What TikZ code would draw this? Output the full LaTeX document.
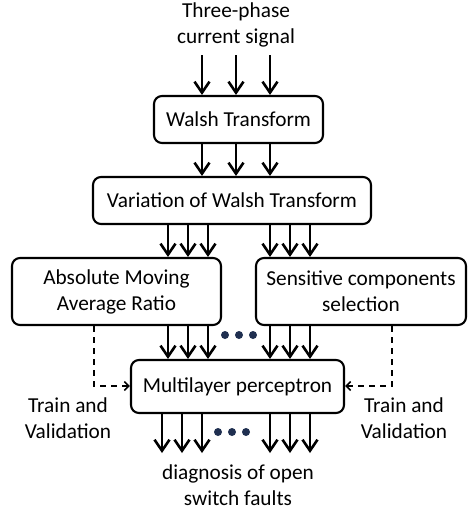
\documentclass[tikz,border=0pt]{standalone}
\usepackage{fontspec}
\setmainfont{Carlito}
\usetikzlibrary{arrows.meta}
\begin{document}
\begin{tikzpicture}[x=1pt,y=-1pt,
  box/.style={draw, line width=2.1pt, rounded corners=8pt, align=center, inner sep=0pt},
  arr/.style={line width=2.8pt, -{Straight Barb[length=11pt,width=15pt,line width=2.6pt]}},
  dsh/.style={line width=2pt, dash pattern=on 6pt off 5pt, -{Straight Barb[length=4.5pt,width=9pt,line width=1.6pt]}},
  lbl/.style={align=center, inner sep=0pt},
  dotc/.style={fill=dotblue, draw=none},
  every node/.style={font=\fontsize{21.3}{26}\selectfont}]
\definecolor{dotblue}{HTML}{1F2F50}
\useasboundingbox (0,0) rectangle (474,512);
\node[lbl] (title) at (236,25) {Three-phase\\current signal};
\node[box, minimum width=169pt, minimum height=47pt] (walsh) at (238.5,119.5) {Walsh Transform};
\node[box, minimum width=278pt, minimum height=47pt] (var) at (232,200.5) {Variation of Walsh Transform};
\node[box, minimum width=209pt, minimum height=67pt] (amar) at (116.5,291.5) {Absolute Moving\\Average Ratio};
\node[box, minimum width=210pt, minimum height=67pt] (scs) at (361,291.5) {Sensitive components\\selection};
\node[box, minimum width=213pt, minimum height=53pt] (mlp) at (237.5,386.5) {Multilayer perceptron};
\node[lbl] (tvl) at (68,418) {Train and\\Validation};
\node[lbl] (tvr) at (404,418) {Train and\\Validation};
\node[lbl] (out) at (238,485) {diagnosis of open\\switch faults};
\coordinate (tin) at (236,55);
\foreach \x in {202,236,270}{
  \draw[arr] (tin -| \x,0) -- (walsh.north -| \x,0);
  \draw[arr] (walsh.south -| \x,0) -- (var.north -| \x,0);
}
\foreach \x in {168,188,208}{
  \draw[arr] (var.south -| \x,0) -- (amar.north -| \x,0);
  \draw[arr] (amar.south -| \x,0) -- (mlp.north -| \x,0);
}
\foreach \x in {270,290,310}{
  \draw[arr] (var.south -| \x,0) -- (scs.north -| \x,0);
  \draw[arr] (scs.south -| \x,0) -- (mlp.north -| \x,0);
}
\coordinate (oend) at (238,453);
\foreach \x in {162,182,202,270,290,310}{
  \draw[arr] (mlp.south -| \x,0) -- (oend -| \x,0);
}
\foreach \x in {225,239,253}{ \fill[dotc] (\x,335) circle (4pt); }
\foreach \x in {218,232,246}{ \fill[dotc] (\x,432) circle (4pt); }
\draw[dsh] (amar.south -| 94,0) |- (mlp.west |- 0,386);
\draw[dsh] (scs.south -| 392,0) |- (mlp.east |- 0,386);
\end{tikzpicture}
\end{document}
